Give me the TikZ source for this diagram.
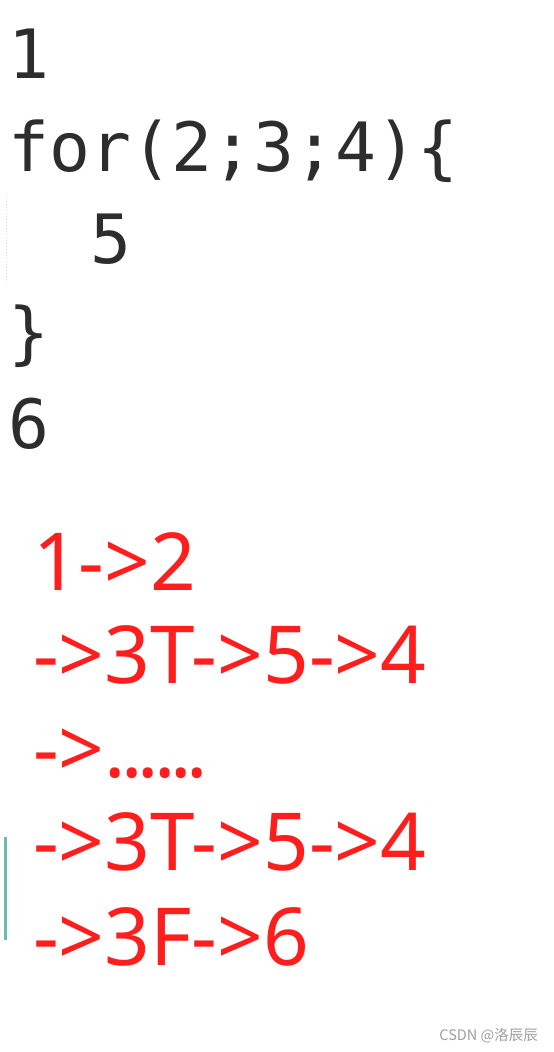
\documentclass[tikz,border=0pt]{standalone}
\usepackage{fontspec}
\newfontfamily\codefont{DejaVu Sans Mono}
\newfontfamily\tracefont{Noto Sans}
\newfontfamily\cjkfont{Noto Sans CJK SC}
\definecolor{codegray}{RGB}{45,45,45}
\definecolor{tracered}{RGB}{255,30,30}
\definecolor{barteal}{RGB}{110,185,185}
\def\loopdots{.\kern-5pt.\kern-5pt.\kern-5pt.\kern-5pt.\kern-5pt.}

\begin{document}
\begin{tikzpicture}[x=1pt,y=-1pt,
		code/.style={anchor=base west,inner sep=0pt,text=codegray,font=\codefont\fontsize{68}{68}\selectfont},
		trace/.style={anchor=base west,inner sep=0pt,text=tracered,font=\tracefont\fontsize{80}{80}\selectfont}]
			\useasboundingbox (0,0) rectangle (554,1052);
			
			% code lines
			\node[code] (l1) at (8,78) {1};
			\node[code] (l2) at (8,171) {for(2;3;4)\{};
			\node[code] (l3) at (90,263) {5};
			\node[code] (l4) at (8,356) {\}};
			\node[code] (l6) at (8,448) {6};
			\draw[gray!25,dotted,line width=1] (6,195) -- (6,285);
			
			% execution order
			\foreach \txt/\yy [count=\i] in {1->2/590,->3T->5->4/683,->\loopdots/777,->3T->5->4/870,->3F->6/965}
			{
				\node[trace] (t\i) at (33,\yy) {\txt};
			}
			\draw[barteal,line width=3] (5,837) -- (5,940);
			
			\node[anchor=base east,inner sep=0pt,text=gray!75,font=\cjkfont\fontsize{14.5}{14.5}\selectfont] (mark) at (538,1040) {CSDN @洛辰辰};
\end{tikzpicture}
\end{document}
